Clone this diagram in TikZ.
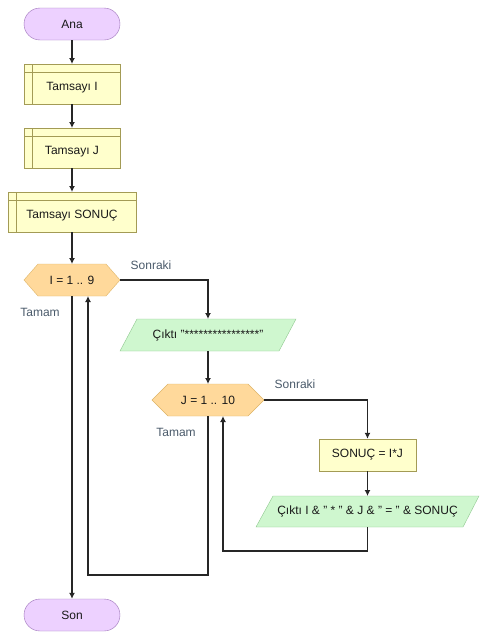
\documentclass[tikz,border=0pt]{standalone}
\usepackage{fontspec}
\setmainfont{Liberation Sans}
\usetikzlibrary{arrows.meta,shapes.geometric,shapes.misc}
\definecolor{termfill}{HTML}{EDD1FF}
\definecolor{termdraw}{HTML}{9B72B8}
\definecolor{declfill}{HTML}{FFFFCC}
\definecolor{decldraw}{HTML}{A39B55}
\definecolor{hexfill}{HTML}{FFD99B}
\definecolor{hexdraw}{HTML}{DDB466}
\definecolor{iofill}{HTML}{CFF7CF}
\definecolor{iodraw}{HTML}{8FC78F}
\definecolor{lblcol}{HTML}{4A5A6A}
\definecolor{linecol}{HTML}{262626}
\begin{document}
\begin{tikzpicture}[x=1pt,y=-1pt,
  every node/.style={font=\fontsize{12}{14}\selectfont,text=black!90},
  conn/.style={draw=linecol,line width=1.4pt,-{Latex[length=6pt,width=6pt]}},
  lbl/.style={text=lblcol,inner sep=0pt}]
\useasboundingbox (0,0) rectangle (488,640);
% terminators
\node[draw=termdraw,fill=termfill,rounded rectangle,minimum width=96pt,minimum height=32pt,inner sep=0pt] (ana) at (72,24) {Ana};
\node[draw=termdraw,fill=termfill,rounded rectangle,minimum width=96pt,minimum height=32pt,inner sep=0pt] (son) at (72,615) {Son};
% declarations
\newcommand{\declbox}[6]{%
  \filldraw[draw=decldraw,fill=declfill] (#1,#2) rectangle (#3,#4);
  \draw[decldraw] (#1+8,#2) -- (#1+8,#4) (#1,#2+8) -- (#3,#2+8);
  \node (#5) at ({(#1+#3)/2},{(#2+#4)/2+4}) {#6};
  \coordinate (#5t) at ({(#1+#3)/2},#2);
  \coordinate (#5b) at ({(#1+#3)/2},#4);
}
\declbox{24}{64}{120}{104}{di}{Tamsayı I}
\declbox{24}{128}{120}{168}{dj}{Tamsayı J}
\declbox{8}{192}{136}{232}{ds}{Tamsayı SONUÇ}
% loop hexagons
\filldraw[draw=hexdraw,fill=hexfill] (24,280) -- (38,264) -- (106,264) -- (120,280) -- (106,296) -- (38,296) -- cycle;
\node (hi) at (72,280) {I = 1 .. 9};
\coordinate (hit) at (72,264);
\coordinate (hib) at (72,296);
\coordinate (hir) at (120,280);
\coordinate (hiback) at (88,296);
\filldraw[draw=hexdraw,fill=hexfill] (152,400) -- (168,384) -- (248,384) -- (264,400) -- (248,416) -- (168,416) -- cycle;
\node (hj) at (208,400) {J = 1 .. 10};
\coordinate (hjt) at (208,384);
\coordinate (hjb) at (208,416);
\coordinate (hjr) at (264,400);
\coordinate (hjback) at (223,416);
% outputs
\filldraw[draw=iodraw,fill=iofill] (120,351) -- (137,319) -- (296,319) -- (279,351) -- cycle;
\node (o1) at (208,335) {Çıktı "****************"};
\coordinate (o1t) at (208,319);
\coordinate (o1b) at (208,351);
\node[draw=decldraw,fill=declfill,minimum width=97pt,minimum height=32pt,inner sep=0pt] (calc) at (367.5,455) {SONUÇ = I*J};
\filldraw[draw=iodraw,fill=iofill] (256,527) -- (273,496) -- (479,496) -- (463,527) -- cycle;
\node (o2) at (367.5,511.5) {Çıktı I \& " * " \& J \& " = " \& SONUÇ};
\coordinate (o2t) at (367.5,496);
\coordinate (o2b) at (367.5,527);
% connectors
\draw[conn] (ana.south) -- (dit);
\draw[conn] (dib) -- (djt);
\draw[conn] (djb) -- (dst);
\draw[conn] (dsb) -- (hit);
\draw[conn] (hir) -| (o1t);
\draw[conn] (o1b) -- (hjt);
\draw[conn] (hjr) -| (calc.north);
\draw[conn] (calc.south) -- (o2t);
\coordinate (c1) at (367.5,551);
\coordinate (c2) at (223,551);
\draw[conn] (o2b) -- (c1) -- (c2) -- (hjback);
\coordinate (c3) at (208,575);
\coordinate (c4) at (88,575);
\draw[conn] (hjb) -- (c3) -- (c4) -- (hiback);
\draw[conn] (hib) -- (son.north);
% labels
\node[lbl] (s1) at (151,265) {Sonraki};
\node[lbl] (t1) at (40,312) {Tamam};
\node[lbl] (s2) at (295,384) {Sonraki};
\node[lbl] (t2) at (176,432) {Tamam};
\end{tikzpicture}
\end{document}
